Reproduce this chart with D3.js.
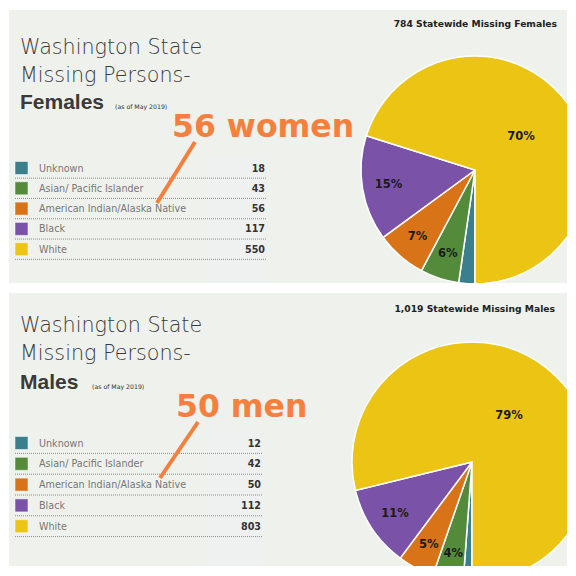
<!DOCTYPE html>
<html>
<head>
<meta charset="UTF-8">
<title>Washington State Missing Persons</title>
<script src="https://cdnjs.cloudflare.com/ajax/libs/d3/7.8.5/d3.min.js"></script>
<style>
html, body { margin: 0; padding: 0; background: #ffffff; }
svg { display: block; }
text { font-family: "DejaVu Sans", sans-serif; }
</style>
</head>
<body>
<script>
// data
var categories = ["Unknown", "Asian/ Pacific Islander", "American Indian/Alaska Native", "Black", "White"];
var colors = ["#3b7f8e", "#548b3b", "#d97317", "#7a53a8", "#ebc414"];
var femaleCounts = [18, 43, 56, 117, 550];
var femaleLabels = ["", "6%", "7%", "15%", "70%"];
var maleCounts = [12, 42, 50, 112, 803];
var maleLabels = ["", "4%", "5%", "11%", "79%"];

var width = 576, height = 576;

var svg = d3.select("body").append("svg")
    .attr("width", width)
    .attr("height", height);

var defs = svg.append("defs");

// layout for each panel (positions in page pixels)
var panels = [
  {
    id: "f", group: "Females", counts: femaleCounts, labels: femaleLabels,
    header: "784 Statewide Missing Females", callout: "56 women",
    top: 10, bottom: 283,
    titleY: [54, 82, 109], noteX: 115,
    headerY: 27, headerX: 557,
    calloutX: 172, calloutY: 137, calloutLine: [[195, 142], [157, 203]],
    rowY: 168, rowStep: 20.3, legendRight: 267, valueX: 265,
    cx: 475, cy: 170, r: 114
  },
  {
    id: "m", group: "Males", counts: maleCounts, labels: maleLabels,
    header: "1,019 Statewide Missing Males", callout: "50 men",
    top: 293, bottom: 566,
    titleY: [332, 360, 389], noteX: 92,
    headerY: 312, headerX: 555,
    calloutX: 176, calloutY: 417, calloutLine: [[198, 422], [160, 478]],
    rowY: 443, rowStep: 20.8, legendRight: 263, valueX: 261,
    cx: 472, cy: 462, r: 120
  }
];

panels.forEach(drawPanel);

function drawPanel(p) {
  var left = 9, right = 567;

  defs.append("clipPath").attr("id", "clip-" + p.id)
    .append("rect")
      .attr("x", left).attr("y", p.top)
      .attr("width", right - left).attr("height", p.bottom - p.top);

  var g = svg.append("g");

  g.append("rect")
    .attr("x", left).attr("y", p.top)
    .attr("width", right - left).attr("height", p.bottom - p.top)
    .attr("fill", "#eef1ec");

  // faint column behind the numbers
  g.append("rect")
    .attr("x", 205).attr("y", p.rowY - 12)
    .attr("width", p.legendRight - 205).attr("height", p.bottom - p.rowY + 12)
    .attr("fill", "#eff1f1");

  // title
  var title = g.append("g").attr("fill", "#3a3a3a");
  title.append("text")
    .attr("x", 20).attr("y", p.titleY[0])
    .attr("font-size", 20.7).attr("font-weight", 200)
    .text("Washington State");
  title.append("text")
    .attr("x", 20).attr("y", p.titleY[1])
    .attr("font-size", 20.7).attr("font-weight", 200)
    .text("Missing Persons-");
  title.append("text")
    .attr("x", 20).attr("y", p.titleY[2])
    .style("font-family", "'Liberation Sans', sans-serif")
    .attr("font-size", 21).attr("font-weight", "bold")
    .text(p.group);
  title.append("text")
    .attr("x", p.noteX).attr("y", p.titleY[2])
    .attr("font-size", 6.2)
    .attr("fill", "#333")
    .text("(as of May 2019)");

  // header over the pie
  g.append("text")
    .attr("x", p.headerX).attr("y", p.headerY)
    .attr("text-anchor", "end")
    .attr("font-size", 9.2).attr("font-weight", "bold")
    .attr("fill", "#222")
    .text(p.header);

  // legend table
  var rowScale = d3.scaleLinear().domain([0, 1]).range([p.rowY, p.rowY + p.rowStep]);
  var rows = g.selectAll("g.row")
    .data(categories.map(function(c, i) { return { name: c, value: p.counts[i], color: colors[i] }; }))
    .join("g")
      .attr("class", "row")
      .attr("transform", function(d, i) { return "translate(0," + rowScale(i) + ")"; });

  rows.append("rect")
    .attr("x", 15).attr("y", -6.5)
    .attr("width", 13).attr("height", 13)
    .attr("fill", function(d) { return d.color; })
    .attr("stroke", "#fff").attr("stroke-opacity", 0.5);

  rows.append("text")
    .attr("x", 39).attr("y", 3.5)
    .attr("font-size", 9.6)
    .attr("fill", "#777")
    .text(function(d) { return d.name; });

  rows.append("text")
    .attr("x", p.valueX).attr("y", 3.5)
    .attr("text-anchor", "end")
    .attr("font-size", 9.6).attr("font-weight", "bold")
    .attr("fill", "#333")
    .text(function(d) { return d.value; });

  rows.append("line")
    .attr("x1", 15).attr("x2", p.legendRight)
    .attr("y1", p.rowStep / 2).attr("y2", p.rowStep / 2)
    .attr("stroke", "#8a8a8a").attr("stroke-width", 1)
    .attr("stroke-dasharray", "1,1");

  // pie
  var pie = d3.pie().sort(null).startAngle(Math.PI).endAngle(3 * Math.PI);
  var arcs = pie(p.counts);
  var arc = d3.arc().innerRadius(0).outerRadius(p.r);

  var pieG = g.append("g")
    .attr("clip-path", "url(#clip-" + p.id + ")")
    .append("g")
      .attr("transform", "translate(" + p.cx + "," + p.cy + ")");

  pieG.selectAll("path")
    .data(arcs)
    .join("path")
      .attr("d", arc)
      .attr("fill", function(d, i) { return colors[i]; })
      .attr("stroke", "#fff")
      .attr("stroke-width", 1.5);

  pieG.selectAll("text")
    .data(arcs)
    .join("text")
      .attr("transform", function(d) {
        var span = d.endAngle - d.startAngle;
        var k = span > Math.PI ? 0.5 : 0.77;
        var rr = p.r * k;
        var a = (d.startAngle + d.endAngle) / 2;
        return "translate(" + (Math.sin(a) * rr) + "," + (-Math.cos(a) * rr) + ")";
      })
      .attr("text-anchor", "middle")
      .attr("dy", "0.35em")
      .attr("font-size", 11.5).attr("font-weight", "bold")
      .attr("fill", "#1a1a1a")
      .text(function(d, i) { return p.labels[i]; });

  // callout
  g.append("text")
    .attr("x", p.calloutX).attr("y", p.calloutY)
    .attr("font-size", 31.5).attr("font-weight", "bold")
    .attr("fill", "#f5803e")
    .text(p.callout);

  g.append("line")
    .attr("x1", p.calloutLine[0][0]).attr("y1", p.calloutLine[0][1])
    .attr("x2", p.calloutLine[1][0]).attr("y2", p.calloutLine[1][1])
    .attr("stroke", "#f5803e")
    .attr("stroke-width", 4);
}
</script>
</body>
</html>
